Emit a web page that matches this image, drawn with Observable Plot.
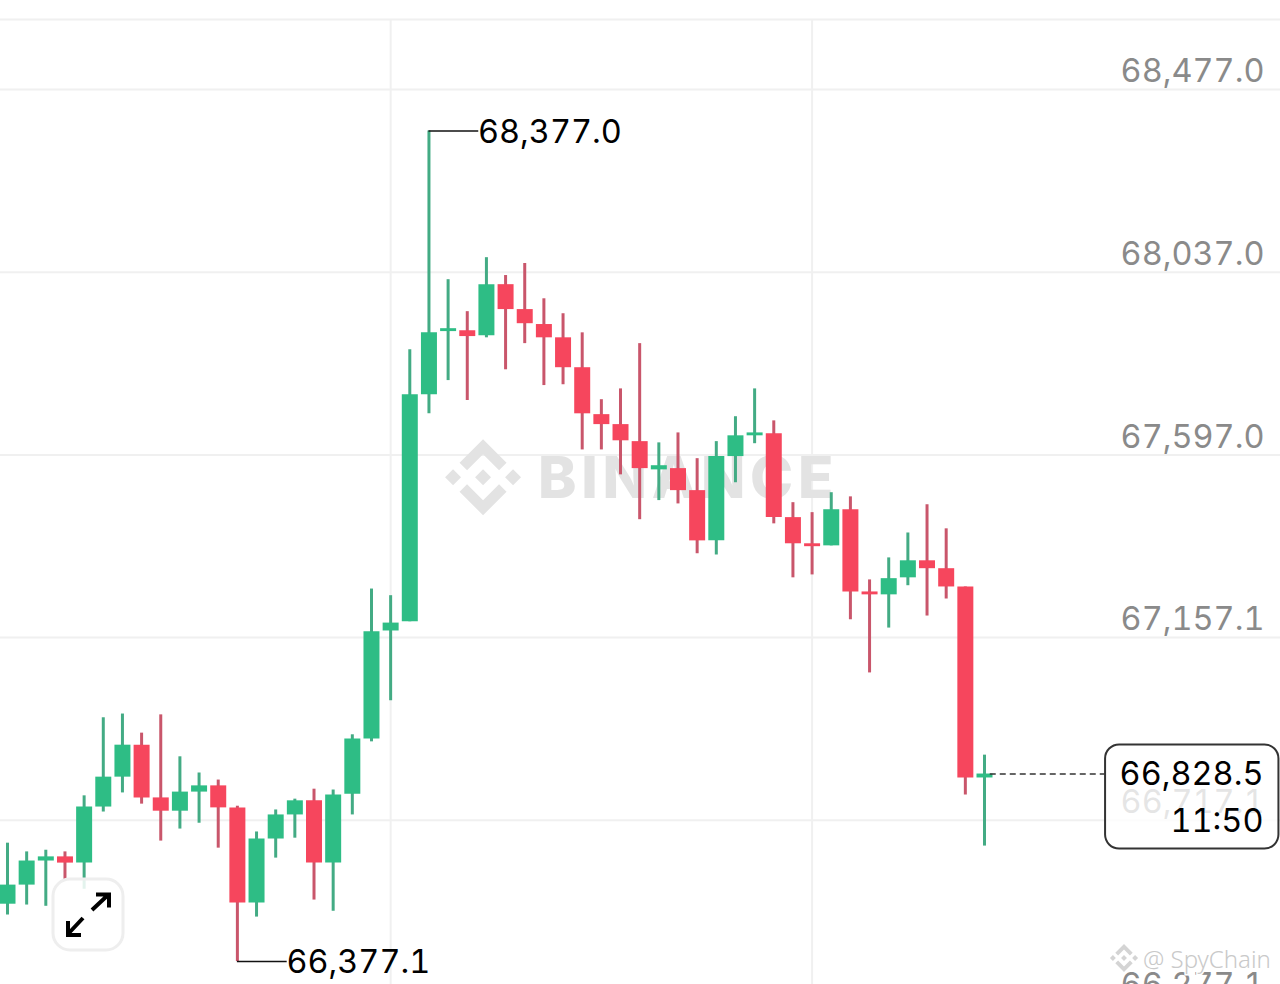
<!DOCTYPE html>
<html>
<head>
<meta charset="utf-8">
<style>
html,body{margin:0;padding:0;background:#fff;overflow:hidden}
svg{display:block}
</style>
<script src="https://cdn.jsdelivr.net/npm/d3@7"></script>
<script src="https://cdn.jsdelivr.net/npm/@observablehq/plot@0.6"></script>
</head>
<body>
<div id="chart"></div>
<script>
const opens = [66515,66561,66619,66629,66614,66749,66821,66898,66771,66739,66785,66800,66747,66518,66672,66730,66764,66614,66780,66913,67173,67195,67742,67894,67896,67884,68007,67947,67911,67879,67807,67694,67670,67629,67561,67564,67511,67390,67593,67643,67648,67446,67383,67378,67465,67267,67260,67301,67342,67323,67279,66819];
const closes = [66561,66619,66629,66614,66749,66821,66898,66771,66739,66785,66800,66747,66518,66672,66730,66764,66614,66778,66913,67171,67192,67742,67891,67901,67882,68007,67947,67913,67879,67807,67696,67670,67631,67564,67571,67511,67390,67593,67643,67650,67446,67383,67376,67465,67267,67260,67299,67342,67323,67279,66819,66828.5];
const highs = [66662,66641,66645,66641,66776,66964,66973,66927,66971,66870,66831,66814,66751,66689,66742,66768,66792,66790,66923,67274,67258,67850,68377,68019,67942,68072,68029,68058,67973,67937,67891,67730,67756,67865,67626,67650,67588,67629,67689,67756,67679,67482,67458,67506,67496,67296,67349,67409,67477,67419,67279,66874];
const lows = [66489,66513,66510,66571,66551,66737,66783,66756,66667,66696,66710,66650,66377.1,66484,66626,66674,66525,66498,66730,66906,67005,67195,67696,67776,67728,67879,67802,67865,67764,67766,67609,67609,67549,67441,67487,67479,67359,67356,67530,67624,67431,67301,67308,67378,67200,67072,67180,67282,67209,67250,66778,66655];
const priceTicks = [68477.0,68037.0,67597.0,67157.1,66717.1,66277.1];
const timeGrid = [20,42];
const chartTop = 68645.7;
const highMark = {index:22, price:68377.0};
const lowMark = {index:12, price:66377.1};
const lastPrice = 66828.5;
const countdown = "11:50";

const candles = opens.map((o,i)=>({i,open:o,close:closes[i],high:highs[i],low:lows[i],up:closes[i]>=o}));
const fmt = d3.format(",.1f");

const GREEN="#2ebd85", RED="#f6465d", WICK_G="#43ab84", WICK_R="#c9566b";
const FONT="Inter, sans-serif", FS=32.5, NUM="tabular-nums";

// decorative watermark + expand button
function binanceLogo(g,cx,cy,s,fill){
  const P=(pts)=>"M"+pts.map(p=>[cx+p[0]*s,cy+p[1]*s].join(",")).join("L")+"Z";
  const dia=(x,r)=>P([[x,-r],[x+r,0],[x,r],[x-r,0]]);
  const d=[dia(0,8),dia(-30,8),dia(30,8),
    P([[0,-38],[23.5,-14.5],[16,-7],[0,-23],[-16,-7],[-23.5,-14.5]]),
    P([[0,38],[23.5,14.5],[16,7],[0,23],[-16,7],[-23.5,14.5]])].join("");
  g.append("path").attr("d",d).attr("fill",fill);
}
function watermark(index,scales){
  const g=d3.create("svg:g");
  binanceLogo(g,scales.x(24.85),scales.y(67542),1,"#e3e3e3");
  g.append("text").attr("x",scales.x(27.72)).attr("y",scales.y(67491)).attr("text-anchor","start")
    .attr("font-family","Inter, sans-serif").attr("font-weight",800).attr("font-size",58)
    .attr("letter-spacing",4.7).attr("fill","#e3e3e3").text("BINANCE");
  return g.node();
}
function expandButton(index,scales){
  const g=d3.create("svg:g");
  g.append("rect").attr("x",53).attr("y",879).attr("width",70).attr("height",71).attr("rx",17)
    .attr("fill","#fff").attr("fill-opacity",0.85).attr("stroke","#eeeeee").attr("stroke-width",3);
  g.append("path").attr("d","M92,910L108,895M96,894.5H109V907.5M83,918L68,934M68,921V935H81")
    .attr("fill","none").attr("stroke","#000").attr("stroke-width",4);
  return g.node();
}
function spyChain(index,scales){
  const g=d3.create("svg:g");
  binanceLogo(g,1124,958,0.37,"#d4d4d4");
  g.append("text").attr("x",1143).attr("y",968).attr("text-anchor","start").attr("font-family","'Noto Sans', sans-serif")
    .attr("font-size",24).attr("font-weight",300).attr("fill","#c9c9c9")
    .attr("stroke","#fff").attr("stroke-width",3).attr("paint-order","stroke").text("@ SpyChain");
  return g.node();
}

const plot = Plot.plot({
  width:1280, height:984,
  marginTop:0, marginRight:0, marginBottom:0, marginLeft:0,
  style:{background:"#fff",overflow:"hidden"},
  x:{type:"linear",domain:[0,51],range:[7,984],axis:null},
  y:{type:"linear",domain:[66277.1,68477],range:[1002.5,89],axis:null},
  marks:[
    Plot.ruleY([chartTop,...priceTicks],{x1:-0.4,x2:66.5,stroke:"#f0f0f0",strokeWidth:2}),
    Plot.ruleX(timeGrid,{y1:chartTop,y2:66100,stroke:"#f0f0f0",strokeWidth:2}),
    Plot.text(priceTicks,{y:d=>d,text:d=>fmt(d),frameAnchor:"right",dx:-16,dy:-17.5,textAnchor:"end",
      fill:"#8a8a8a",fontSize:FS,fontFamily:FONT,fontVariant:NUM}),
    watermark,
    Plot.ruleX(candles,{x:"i",y1:"low",y2:"high",stroke:d=>d.up?WICK_G:WICK_R,strokeWidth:3}),
    Plot.ruleX(candles,{x:"i",y1:"open",y2:"close",stroke:d=>d.up?GREEN:RED,strokeWidth:16}),
    Plot.ruleY([highMark],{y:"price",x1:"index",x2:d=>d.index+2.6,stroke:"#111",strokeWidth:1.5}),
    Plot.ruleY([lowMark],{y:"price",x1:"index",x2:d=>d.index+2.6,stroke:"#111",strokeWidth:1.5}),
    Plot.text([highMark,lowMark],{x:"index",y:"price",text:d=>fmt(d.price),dx:49,dy:1.5,textAnchor:"start",
      fill:"#000",fontSize:FS,fontFamily:FONT,fontVariant:NUM}),
    Plot.ruleY([lastPrice],{x1:51.3,x2:57.3,stroke:"#333",strokeWidth:1.5,strokeDasharray:"6,4"}),
    Plot.rect([0],{x1:57.32,x2:66.37,y1:66898.5,y2:66647.8,fill:"#fff",fillOpacity:0.78,
      stroke:"#333",strokeWidth:2,rx:14}),
    Plot.text([lastPrice],{y:d=>d,text:d=>fmt(d),frameAnchor:"right",dx:-17,dy:1,textAnchor:"end",
      fill:"#000",fontSize:FS,fontFamily:FONT,fontVariant:NUM}),
    Plot.text([countdown],{y:lastPrice-110.5,text:d=>d,frameAnchor:"right",dx:-17,dy:1.5,textAnchor:"end",
      fill:"#000",fontSize:FS,fontFamily:FONT,fontVariant:NUM}),
    expandButton,
    spyChain
  ]
});
document.getElementById("chart").appendChild(plot);
</script>
</body>
</html>
